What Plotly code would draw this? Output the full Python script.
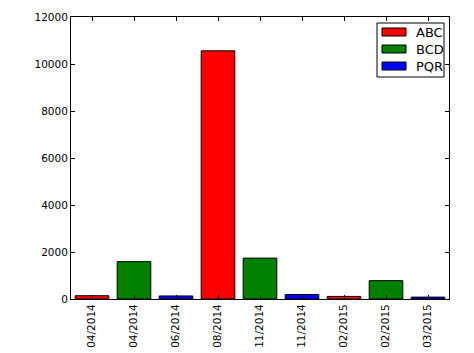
import plotly.graph_objects as go

tick_labels = ["04/2014", "04/2014", "06/2014", "08/2014", "11/2014",
               "11/2014", "02/2015", "02/2015", "03/2015"]
values = [140, 1590, 130, 10560, 1740, 190, 110, 780, 80]
series_names = ["ABC", "BCD", "PQR"]
series_colors = ["#ff0000", "#008000", "#0000ff"]

W, H = 474, 353
L, R, T, B = 71, 25, 17, 54
PW, PH = W - L - R, H - T - B


def px_x(p):
    return (p - L) / PW


def px_y(p):
    return (H - B - p) / PH


fig = go.Figure()
for k, (name, color) in enumerate(zip(series_names, series_colors)):
    idx = list(range(k, len(values), 3))
    fig.add_trace(go.Bar(
        x=idx, y=[values[i] for i in idx], name=name,
        marker=dict(color=color, line=dict(color="black", width=1)),
        width=0.8, showlegend=False,
    ))

# matplotlib-style legend box
shapes = [dict(type="rect", xref="paper", yref="paper",
               x0=px_x(377), x1=px_x(444), y0=px_y(77), y1=px_y(23),
               line=dict(color="black", width=1), fillcolor="white", layer="above")]
annotations = []
for k, (name, color) in enumerate(zip(series_names, series_colors)):
    cy = 32 + k * 17
    shapes.append(dict(type="rect", xref="paper", yref="paper",
                       x0=px_x(382), x1=px_x(406), y0=px_y(cy + 4), y1=px_y(cy - 4),
                       line=dict(color="black", width=1), fillcolor=color, layer="above"))
    annotations.append(dict(xref="paper", yref="paper", x=px_x(414), y=px_y(cy),
                            xanchor="left", yanchor="middle", text=name, showarrow=False,
                            font=dict(family="DejaVu Sans", size=13, color="black")))

axis_common = dict(showline=True, linecolor="black", linewidth=1, mirror="ticks",
                   ticks="inside", ticklen=4, tickcolor="black", showgrid=False,
                   zeroline=False, automargin=False,
                   tickfont=dict(family="DejaVu Sans", size=10.5, color="black"))

fig.update_layout(
    width=W, height=H,
    margin=dict(l=L, r=R, t=T, b=B),
    paper_bgcolor="white", plot_bgcolor="white",
    barmode="overlay",
    showlegend=False,
    shapes=shapes,
    annotations=annotations,
    xaxis=dict(range=[-0.5, 8.5], tickvals=list(range(len(tick_labels))),
               ticktext=tick_labels, tickangle=-90, **axis_common),
    yaxis=dict(range=[0, 12000], tickvals=[0, 2000, 4000, 6000, 8000, 10000, 12000],
               tickformat="d", **axis_common),
)

fig.write_html("out.html")
